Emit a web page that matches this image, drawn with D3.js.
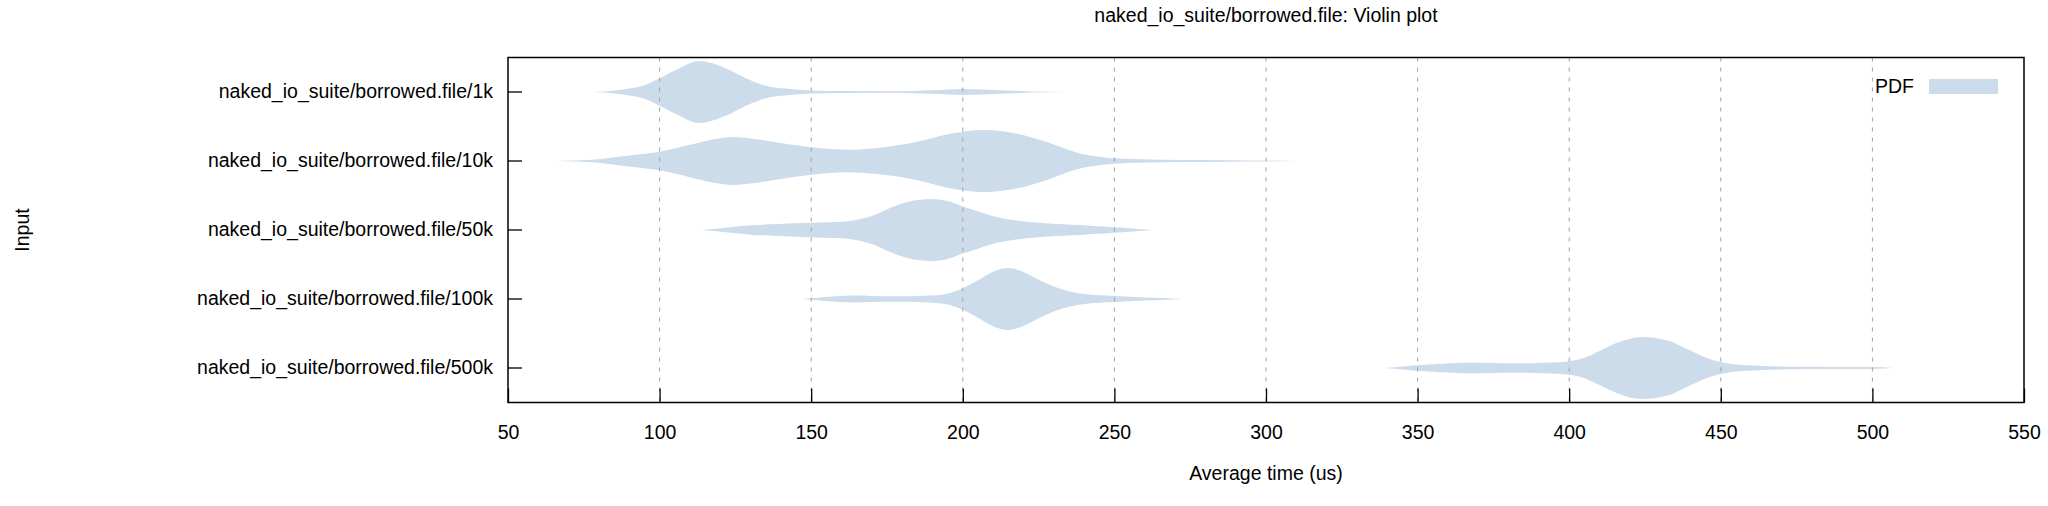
<!DOCTYPE html>
<html>
<head>
<meta charset="utf-8">
<script src="https://cdn.jsdelivr.net/npm/d3@7"></script>
<style>
  html, body { margin: 0; padding: 0; background: #fff; }
  svg { display: block; font-family: "Liberation Sans", Arial, Helvetica, sans-serif; }
</style>
</head>
<body>
<svg id="chart" width="2048" height="506"></svg>
<script>
// ---- Data ----
const title = "naked_io_suite/borrowed.file: Violin plot";
const xLabel = "Average time (us)";
const yLabel = "Input";
const legendLabel = "PDF";
const categories = [
  "naked_io_suite/borrowed.file/1k",
  "naked_io_suite/borrowed.file/10k",
  "naked_io_suite/borrowed.file/50k",
  "naked_io_suite/borrowed.file/100k",
  "naked_io_suite/borrowed.file/500k"
];
const xTicks = [50, 100, 150, 200, 250, 300, 350, 400, 450, 500, 550];
const gridTicks = [100, 150, 200, 250, 300, 350, 400, 450, 500];

// relative density profiles: [time (us), relative density]
const pdf1k = [[78,0],[82,0.02],[89,0.1],[95,0.22],[100,0.44],[106,0.74],[113,1.0],[122,0.76],[129,0.42],[135,0.2],[144,0.09],[150,0.05],[160,0.03],[178,0.025],[190,0.06],[200,0.1],[212,0.06],[223,0.02],[234,0]];
const pdf10k = [[65,0],[72,0.02],[80,0.06],[85,0.12],[92,0.2],[100,0.3],[110,0.52],[118,0.7],[124,0.77],[132,0.7],[142,0.55],[150,0.44],[162,0.36],[172,0.42],[185,0.62],[195,0.86],[207,1.0],[218,0.88],[228,0.6],[238,0.26],[245,0.14],[250,0.09],[258,0.06],[266,0.04],[280,0.03],[295,0.02],[310,0]];
const pdf50k = [[113.6,0],[118,0.03],[124,0.1],[130,0.15],[139,0.19],[150,0.23],[158,0.26],[164,0.31],[170,0.45],[176,0.71],[182,0.91],[189.5,1.0],[195,0.93],[200,0.76],[205,0.6],[210,0.44],[216,0.33],[222,0.26],[230,0.2],[236,0.17],[243,0.13],[250,0.09],[256,0.05],[262.5,0]];
const pdf100k = [[147,0],[153,0.05],[158,0.09],[164,0.11],[170,0.1],[176,0.09],[182,0.09],[189,0.11],[195,0.18],[200,0.35],[205,0.6],[210,0.88],[215,1.0],[220,0.87],[225,0.62],[230,0.4],[235,0.25],[240,0.16],[250,0.1],[260,0.05],[266,0.03],[272.5,0]];
const pdf500k = [[339,0],[344,0.04],[350,0.09],[358,0.14],[366,0.17],[375,0.16],[383,0.15],[392,0.17],[400,0.22],[405,0.33],[410,0.55],[416,0.82],[424,1.0],[433,0.87],[438,0.65],[442,0.47],[446,0.3],[450,0.19],[455,0.11],[462,0.07],[475,0.04],[490,0.035],[500,0.03],[507,0]];
const densities = [pdf1k, pdf10k, pdf50k, pdf100k, pdf500k];

// ---- Layout ----
const svg = d3.select("#chart");
const plot = { left: 508, right: 2024, top: 57.5, bottom: 402.5 };
const fontSize = 19.5;
const violinColor = "#cddcea";

const x = d3.scaleLinear().domain([50, 550]).range([plot.left, plot.right]);
const y = d3.scaleBand().domain(categories).range([plot.top, plot.bottom]).padding(0);
const w = d3.scaleLinear().domain([0, 1]).range([0, y.bandwidth() * 0.45]);

// violins
const vg = svg.append("g");
categories.forEach((c, i) => {
  const cy = y(c) + y.bandwidth() / 2;
  const area = d3.area()
    .x(d => x(d[0]))
    .y0(d => cy - w(d[1]))
    .y1(d => cy + w(d[1]))
    .curve(d3.curveMonotoneX);
  vg.append("path").datum(densities[i])
    .attr("d", area)
    .attr("fill", violinColor);
});

// grid (drawn over the violins)
svg.append("g").selectAll("line").data(gridTicks).join("line")
  .attr("x1", d => x(d)).attr("x2", d => x(d))
  .attr("y1", plot.top).attr("y2", plot.bottom)
  .attr("stroke", "#a0a0a0").attr("stroke-width", 1)
  .attr("stroke-dasharray", "4,6");

// x axis (ticks inward)
const xAxis = d3.axisBottom(x).tickValues(xTicks).tickSize(-14).tickPadding(23).tickFormat(d3.format("d"));
const gx = svg.append("g").attr("transform", `translate(0,${plot.bottom})`).call(xAxis);
gx.select(".domain").remove();
gx.selectAll(".tick line").attr("stroke", "#000").attr("stroke-width", 1.3);
gx.selectAll(".tick text").attr("font-size", fontSize).attr("fill", "#000")
  .attr("font-family", "Liberation Sans, Arial, sans-serif");

// y axis (ticks inward)
const yAxis = d3.axisLeft(y).tickSize(-14).tickPadding(15);
const gy = svg.append("g").attr("transform", `translate(${plot.left},0)`).call(yAxis);
gy.select(".domain").remove();
gy.selectAll(".tick line").attr("stroke", "#000").attr("stroke-width", 1.3);
gy.selectAll(".tick text").attr("font-size", fontSize).attr("fill", "#000")
  .attr("font-family", "Liberation Sans, Arial, sans-serif");

// frame
svg.append("rect")
  .attr("x", plot.left).attr("y", plot.top)
  .attr("width", plot.right - plot.left).attr("height", plot.bottom - plot.top)
  .attr("fill", "none").attr("stroke", "#000").attr("stroke-width", 1.5);

// title
svg.append("text").attr("x", (plot.left + plot.right) / 2).attr("y", 21.5)
  .attr("text-anchor", "middle").attr("font-size", fontSize).text(title);

// x label
svg.append("text").attr("x", (plot.left + plot.right) / 2).attr("y", 480)
  .attr("text-anchor", "middle").attr("font-size", fontSize).text(xLabel);

// y label
svg.append("text").attr("transform", `translate(29,${(plot.top + plot.bottom) / 2}) rotate(-90)`)
  .attr("text-anchor", "middle").attr("font-size", fontSize).text(yLabel);

// legend
const lg = svg.append("g");
lg.append("text").attr("x", 1914).attr("y", 93).attr("text-anchor", "end")
  .attr("font-size", fontSize).text(legendLabel);
lg.append("rect").attr("x", 1929).attr("y", 79).attr("width", 69).attr("height", 15)
  .attr("fill", violinColor);
</script>
</body>
</html>
